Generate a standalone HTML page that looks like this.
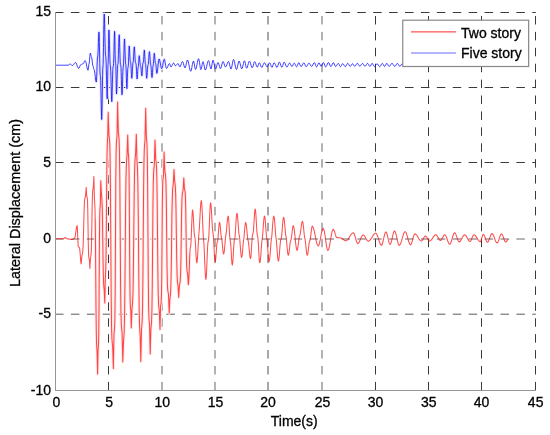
<!DOCTYPE html>
<html><head><meta charset="utf-8"><style>
html,body{margin:0;padding:0;background:#fff;}
svg{display:block;}
text{font-family:"Liberation Sans",Arial,sans-serif;font-size:14px;fill:#000;stroke:#000;stroke-width:0.3px;}
.tl{font-size:14px;}
.yl{font-size:14.4px;}
.gv{stroke:#3a3a3a;stroke-width:1;stroke-dasharray:8.5 7.41;}
.gh{stroke:#3a3a3a;stroke-width:1;stroke-dasharray:8.5 7.41;}
.tk{stroke:#444;stroke-width:1;}
.ax{stroke:#969696;stroke-width:1;}
</style></head><body>
<svg width="550" height="435" viewBox="0 0 550 435">
<rect x="0" y="0" width="550" height="435" fill="#fff"/>
<line x1="108.50" y1="390.4" x2="108.50" y2="12" class="gv" style="stroke:#3a3a3a"/>
<line x1="162.00" y1="390.4" x2="162.00" y2="12" class="gv" style="stroke:#666"/>
<line x1="215.00" y1="390.4" x2="215.00" y2="12" class="gv" style="stroke:#666"/>
<line x1="268.00" y1="390.4" x2="268.00" y2="12" class="gv" style="stroke:#505050"/>
<line x1="322.00" y1="390.4" x2="322.00" y2="12" class="gv" style="stroke:#666"/>
<line x1="375.50" y1="390.4" x2="375.50" y2="12" class="gv" style="stroke:#3a3a3a"/>
<line x1="428.50" y1="390.4" x2="428.50" y2="12" class="gv" style="stroke:#3a3a3a"/>
<line x1="481.50" y1="390.4" x2="481.50" y2="12" class="gv" style="stroke:#3a3a3a"/>
<line x1="535.50" y1="390.4" x2="535.50" y2="12" class="gv" style="stroke:#3a3a3a"/>
<line x1="55" y1="87.50" x2="535.8" y2="87.50" class="gh" stroke="#3a3a3a" style="stroke:#3a3a3a"/>
<line x1="55" y1="162.50" x2="535.8" y2="162.50" class="gh" stroke="#3a3a3a" style="stroke:#3a3a3a"/>
<line x1="55" y1="239.00" x2="535.8" y2="239.00" class="gh" stroke="#6a6a6a" style="stroke:#6a6a6a"/>
<line x1="55" y1="314.20" x2="535.8" y2="314.20" class="gh" stroke="#5a5a5a" style="stroke:#5a5a5a"/>
<line x1="55" y1="12.50" x2="535.8" y2="12.50" class="gh" stroke="#3a3a3a" style="stroke:#3a3a3a"/>
<polyline points="95.22,219.32 95.49,241.93 95.75,275.20 96.01,308.47 96.28,331.08 96.54,342.71 96.81,347.91 97.07,351.66 97.34,362.93 97.60,374.00 97.83,362.11 98.06,350.33 98.29,347.48 98.51,344.28 98.74,335.38 98.97,313.93 99.20,277.35 99.43,240.77 99.66,219.32 99.89,210.42 100.11,207.22 100.34,204.37 100.57,192.59 100.80,180.70 101.09,187.01 101.37,193.51 101.66,195.96 101.94,199.53 102.23,207.19 102.51,221.45 102.80,241.85 103.09,262.25 103.37,276.51 103.66,284.17 103.94,287.74 104.23,290.19 104.51,296.69 104.80,303.00 105.04,290.93 105.29,278.65 105.53,274.63 105.77,269.39 106.01,258.20 106.26,237.41 106.50,207.70 106.74,177.99 106.99,157.20 107.23,146.01 107.47,140.77 107.71,136.75 107.96,124.47 108.20,112.40 108.57,123.63 108.94,134.84 109.31,137.93 109.69,142.28 110.06,154.84 110.43,186.06 110.80,240.50 111.17,294.94 111.54,326.16 111.91,338.72 112.29,343.07 112.66,346.16 113.03,357.37 113.40,368.60 113.70,351.22 114.00,334.17 114.30,330.69 114.60,327.69 114.90,317.88 115.20,289.73 115.50,235.30 115.80,180.87 116.10,152.72 116.40,142.91 116.70,139.91 117.00,136.43 117.30,119.38 117.60,102.00 117.97,116.90 118.34,131.68 118.71,135.33 119.09,139.63 119.46,151.73 119.83,181.25 120.20,232.00 120.57,282.75 120.94,312.27 121.31,324.37 121.69,328.67 122.06,332.32 122.43,347.10 122.80,362.00 123.15,351.88 123.50,341.39 123.85,337.23 124.20,330.74 124.55,316.35 124.90,288.75 125.25,248.50 125.60,208.25 125.95,180.65 126.30,166.26 126.65,159.77 127.00,155.61 127.35,145.12 127.70,135.00 127.96,143.59 128.21,152.24 128.47,154.86 128.73,158.73 128.99,169.02 129.24,192.63 129.50,231.50 129.76,270.37 130.01,293.98 130.27,304.27 130.53,308.14 130.79,310.76 131.04,319.41 131.30,328.00 131.66,318.37 132.01,308.50 132.37,304.95 132.73,299.71 133.09,287.93 133.44,264.98 133.80,231.15 134.16,197.32 134.51,174.37 134.87,162.59 135.23,157.35 135.59,153.80 135.94,143.93 136.30,134.30 136.62,146.94 136.94,159.98 137.26,164.85 137.59,171.73 137.91,186.00 138.23,211.78 138.55,247.95 138.87,284.12 139.19,309.90 139.51,324.17 139.84,331.05 140.16,335.92 140.48,348.96 140.80,361.60 141.15,345.65 141.50,329.73 141.85,325.53 142.20,320.50 142.55,307.75 142.90,279.74 143.25,234.95 143.60,190.16 143.95,162.15 144.30,149.40 144.65,144.37 145.00,140.17 145.35,124.25 145.70,108.30 146.02,122.58 146.34,136.81 146.66,140.56 146.99,145.20 147.31,157.42 147.63,185.33 147.95,231.15 148.27,276.97 148.59,304.88 148.91,317.10 149.24,321.74 149.56,325.49 149.88,339.72 150.20,354.00 150.54,341.45 150.89,328.93 151.23,325.60 151.57,321.50 151.91,310.78 152.26,286.54 152.60,247.00 152.94,207.46 153.29,183.22 153.63,172.50 153.97,168.40 154.31,165.07 154.66,152.55 155.00,140.00 155.36,149.43 155.71,158.93 156.07,161.76 156.43,165.73 156.79,175.92 157.14,198.50 157.50,234.80 157.86,271.10 158.21,293.68 158.57,303.87 158.93,307.84 159.29,310.67 159.64,320.17 160.00,329.60 160.29,317.90 160.59,306.43 160.88,304.11 161.17,302.15 161.46,295.71 161.76,277.08 162.05,240.85 162.34,204.62 162.64,185.99 162.93,179.55 163.22,177.59 163.51,175.27 163.81,163.80 164.10,152.10 164.46,161.66 164.83,171.07 165.19,173.17 165.56,175.34 165.92,182.02 166.29,199.89 166.65,232.70 167.01,265.51 167.38,283.38 167.74,290.06 168.11,292.23 168.47,294.33 168.84,303.74 169.20,313.30 169.54,306.26 169.89,299.10 170.23,296.73 170.57,293.26 170.91,284.96 171.26,267.79 171.60,241.45 171.94,215.11 172.29,197.94 172.63,189.64 172.97,186.17 173.31,183.80 173.66,176.64 174.00,169.60 174.34,175.40 174.67,181.34 175.01,183.45 175.34,186.67 175.68,194.29 176.01,209.87 176.35,233.55 176.69,257.23 177.02,272.81 177.36,280.43 177.69,283.65 178.03,285.76 178.36,291.70 178.70,297.50 179.06,291.26 179.43,285.09 179.79,283.59 180.16,281.78 180.52,276.39 180.89,262.52 181.25,237.70 181.61,212.88 181.98,199.01 182.34,193.62 182.71,191.81 183.07,190.31 183.44,184.14 183.80,177.90 184.12,183.42 184.44,188.88 184.76,190.15 185.09,191.64 185.41,196.24 185.73,208.56 186.05,231.25 186.37,253.94 186.69,266.26 187.01,270.86 187.34,272.35 187.66,273.62 187.98,279.08 188.30,284.60 188.61,282.60 188.91,277.05 189.22,269.16 189.53,260.67 189.84,253.37" fill="none" stroke="#ffe8e8" stroke-width="3" stroke-linejoin="round"/>
<polyline points="55.00,238.80 56.60,238.80 58.20,238.80 59.80,238.80 61.40,238.80 63.00,238.80 63.44,238.69 63.88,238.39 64.32,238.01 64.76,237.71 65.20,237.60 65.60,237.71 66.00,238.01 66.40,238.39 66.80,238.69 67.20,238.80 68.16,238.88 69.12,239.08 70.08,239.32 71.04,239.52 72.00,239.60 72.50,239.50 73.00,239.25 73.50,238.95 74.00,238.70 74.50,238.60 75.02,237.36 75.54,234.11 76.06,230.09 76.58,226.84 77.10,225.60 77.34,227.60 77.58,232.82 77.82,239.28 78.06,244.50 78.30,246.50 78.52,246.60 78.74,246.85 78.96,247.15 79.18,247.40 79.40,247.50 79.76,249.08 80.12,253.20 80.48,258.30 80.84,262.42 81.20,264.00 81.56,259.68 81.91,255.36 82.27,254.16 82.63,252.60 82.99,248.62 83.34,239.82 83.70,225.70 84.06,211.58 84.41,202.78 84.77,198.80 85.13,197.24 85.49,196.04 85.84,191.72 86.20,187.40 86.46,191.74 86.73,196.02 86.99,196.97 87.26,198.01 87.52,201.31 87.79,210.52 88.05,227.95 88.31,245.38 88.58,254.59 88.84,257.89 89.11,258.93 89.37,259.88 89.64,264.16 89.90,268.50 90.19,263.26 90.47,258.03 90.76,256.63 91.04,254.86 91.33,250.22 91.61,239.68 91.90,222.45 92.19,205.22 92.47,194.68 92.76,190.04 93.04,188.27 93.33,186.87 93.61,181.64 93.90,176.40 94.16,187.47 94.43,198.74 94.69,202.49 94.96,207.69 95.22,219.32 95.49,241.93 95.75,275.20 96.01,308.47 96.28,331.08 96.54,342.71 96.81,347.91 97.07,351.66 97.34,362.93 97.60,374.00 97.83,362.11 98.06,350.33 98.29,347.48 98.51,344.28 98.74,335.38 98.97,313.93 99.20,277.35 99.43,240.77 99.66,219.32 99.89,210.42 100.11,207.22 100.34,204.37 100.57,192.59 100.80,180.70 101.09,187.01 101.37,193.51 101.66,195.96 101.94,199.53 102.23,207.19 102.51,221.45 102.80,241.85 103.09,262.25 103.37,276.51 103.66,284.17 103.94,287.74 104.23,290.19 104.51,296.69 104.80,303.00 105.04,290.93 105.29,278.65 105.53,274.63 105.77,269.39 106.01,258.20 106.26,237.41 106.50,207.70 106.74,177.99 106.99,157.20 107.23,146.01 107.47,140.77 107.71,136.75 107.96,124.47 108.20,112.40 108.57,123.63 108.94,134.84 109.31,137.93 109.69,142.28 110.06,154.84 110.43,186.06 110.80,240.50 111.17,294.94 111.54,326.16 111.91,338.72 112.29,343.07 112.66,346.16 113.03,357.37 113.40,368.60 113.70,351.22 114.00,334.17 114.30,330.69 114.60,327.69 114.90,317.88 115.20,289.73 115.50,235.30 115.80,180.87 116.10,152.72 116.40,142.91 116.70,139.91 117.00,136.43 117.30,119.38 117.60,102.00 117.97,116.90 118.34,131.68 118.71,135.33 119.09,139.63 119.46,151.73 119.83,181.25 120.20,232.00 120.57,282.75 120.94,312.27 121.31,324.37 121.69,328.67 122.06,332.32 122.43,347.10 122.80,362.00 123.15,351.88 123.50,341.39 123.85,337.23 124.20,330.74 124.55,316.35 124.90,288.75 125.25,248.50 125.60,208.25 125.95,180.65 126.30,166.26 126.65,159.77 127.00,155.61 127.35,145.12 127.70,135.00 127.96,143.59 128.21,152.24 128.47,154.86 128.73,158.73 128.99,169.02 129.24,192.63 129.50,231.50 129.76,270.37 130.01,293.98 130.27,304.27 130.53,308.14 130.79,310.76 131.04,319.41 131.30,328.00 131.66,318.37 132.01,308.50 132.37,304.95 132.73,299.71 133.09,287.93 133.44,264.98 133.80,231.15 134.16,197.32 134.51,174.37 134.87,162.59 135.23,157.35 135.59,153.80 135.94,143.93 136.30,134.30 136.62,146.94 136.94,159.98 137.26,164.85 137.59,171.73 137.91,186.00 138.23,211.78 138.55,247.95 138.87,284.12 139.19,309.90 139.51,324.17 139.84,331.05 140.16,335.92 140.48,348.96 140.80,361.60 141.15,345.65 141.50,329.73 141.85,325.53 142.20,320.50 142.55,307.75 142.90,279.74 143.25,234.95 143.60,190.16 143.95,162.15 144.30,149.40 144.65,144.37 145.00,140.17 145.35,124.25 145.70,108.30 146.02,122.58 146.34,136.81 146.66,140.56 146.99,145.20 147.31,157.42 147.63,185.33 147.95,231.15 148.27,276.97 148.59,304.88 148.91,317.10 149.24,321.74 149.56,325.49 149.88,339.72 150.20,354.00 150.54,341.45 150.89,328.93 151.23,325.60 151.57,321.50 151.91,310.78 152.26,286.54 152.60,247.00 152.94,207.46 153.29,183.22 153.63,172.50 153.97,168.40 154.31,165.07 154.66,152.55 155.00,140.00 155.36,149.43 155.71,158.93 156.07,161.76 156.43,165.73 156.79,175.92 157.14,198.50 157.50,234.80 157.86,271.10 158.21,293.68 158.57,303.87 158.93,307.84 159.29,310.67 159.64,320.17 160.00,329.60 160.29,317.90 160.59,306.43 160.88,304.11 161.17,302.15 161.46,295.71 161.76,277.08 162.05,240.85 162.34,204.62 162.64,185.99 162.93,179.55 163.22,177.59 163.51,175.27 163.81,163.80 164.10,152.10 164.46,161.66 164.83,171.07 165.19,173.17 165.56,175.34 165.92,182.02 166.29,199.89 166.65,232.70 167.01,265.51 167.38,283.38 167.74,290.06 168.11,292.23 168.47,294.33 168.84,303.74 169.20,313.30 169.54,306.26 169.89,299.10 170.23,296.73 170.57,293.26 170.91,284.96 171.26,267.79 171.60,241.45 171.94,215.11 172.29,197.94 172.63,189.64 172.97,186.17 173.31,183.80 173.66,176.64 174.00,169.60 174.34,175.40 174.67,181.34 175.01,183.45 175.34,186.67 175.68,194.29 176.01,209.87 176.35,233.55 176.69,257.23 177.02,272.81 177.36,280.43 177.69,283.65 178.03,285.76 178.36,291.70 178.70,297.50 179.06,291.26 179.43,285.09 179.79,283.59 180.16,281.78 180.52,276.39 180.89,262.52 181.25,237.70 181.61,212.88 181.98,199.01 182.34,193.62 182.71,191.81 183.07,190.31 183.44,184.14 183.80,177.90 184.12,183.42 184.44,188.88 184.76,190.15 185.09,191.64 185.41,196.24 185.73,208.56 186.05,231.25 186.37,253.94 186.69,266.26 187.01,270.86 187.34,272.35 187.66,273.62 187.98,279.08 188.30,284.60 188.61,282.60 188.91,277.05 189.22,269.16 189.53,260.67 189.84,253.37 190.14,248.69 190.45,247.25 190.76,245.81 191.06,241.13 191.37,233.83 191.68,225.34 191.99,217.45 192.29,211.90 192.60,209.90 192.90,211.26 193.20,215.06 193.50,220.51 193.80,226.47 194.10,231.73 194.40,235.23 194.70,236.40 195.00,237.57 195.30,241.07 195.60,246.33 195.90,252.29 196.20,257.74 196.50,261.54 196.80,262.90 197.12,261.81 197.44,258.67 197.76,253.82 198.09,247.82 198.41,241.42 198.73,235.55 199.05,231.75 199.37,227.95 199.69,222.08 200.01,215.68 200.34,209.68 200.66,204.83 200.98,201.69 201.30,200.60 201.63,202.14 201.96,206.54 202.29,213.21 202.61,221.21 202.94,229.36 203.27,236.26 203.60,240.00 203.93,243.74 204.26,250.64 204.59,258.79 204.91,266.79 205.24,273.46 205.57,277.86 205.90,279.40 206.24,277.38 206.57,271.77 206.91,263.76 207.24,255.08 207.58,247.54 207.91,242.62 208.25,241.05 208.59,239.48 208.92,234.56 209.26,227.02 209.59,218.34 209.93,210.33 210.26,204.72 210.60,202.70 210.93,204.01 211.26,207.70 211.59,213.18 211.91,219.51 212.24,225.58 212.57,230.25 212.90,232.30 213.23,234.35 213.56,239.02 213.89,245.09 214.21,251.42 214.54,256.90 214.87,260.59 215.20,261.90 215.51,260.83 215.81,257.87 216.12,253.67 216.43,249.16 216.74,245.30 217.04,242.84 217.35,242.10 217.66,241.36 217.96,238.90 218.27,235.04 218.58,230.53 218.89,226.33 219.19,223.37 219.50,222.30 219.79,222.98 220.09,224.90 220.38,227.77 220.67,231.11 220.96,234.37 221.26,236.95 221.55,238.15 221.84,239.35 222.14,241.93 222.43,245.19 222.72,248.53 223.01,251.40 223.31,253.32 223.60,254.00 223.93,253.31 224.26,251.33 224.59,248.28 224.91,244.56 225.24,240.66 225.57,237.17 225.90,235.05 226.23,232.93 226.56,229.44 226.89,225.54 227.21,221.82 227.54,218.77 227.87,216.79 228.20,216.10 228.49,217.25 228.79,220.50 229.08,225.25 229.37,230.60 229.66,235.56 229.96,239.15 230.25,240.55 230.54,241.95 230.84,245.54 231.13,250.50 231.42,255.85 231.71,260.60 232.01,263.85 232.30,265.00 232.63,263.71 232.96,260.08 233.29,254.86 233.61,249.09 233.94,243.92 234.27,240.39 234.60,239.15 234.93,237.91 235.26,234.38 235.59,229.21 235.91,223.44 236.24,218.22 236.57,214.59 236.90,213.30 237.24,214.19 237.57,216.72 237.91,220.54 238.24,225.07 238.58,229.63 238.91,233.41 239.25,235.35 239.59,237.29 239.92,241.07 240.26,245.63 240.59,250.16 240.93,253.98 241.26,256.51 241.60,257.40 241.89,256.76 242.19,254.92 242.48,252.10 242.77,248.66 243.06,245.06 243.36,241.87 243.65,239.95 243.94,238.03 244.24,234.84 244.53,231.24 244.82,227.80 245.11,224.98 245.41,223.14 245.70,222.50 246.04,223.25 246.39,225.38 246.73,228.57 247.07,232.33 247.41,236.06 247.76,239.07 248.10,240.55 248.44,242.03 248.79,245.04 249.13,248.77 249.47,252.53 249.81,255.72 250.16,257.85 250.50,258.60 250.84,257.27 251.17,253.57 251.51,248.33 251.84,242.69 252.18,237.85 252.51,234.75 252.85,233.80 253.19,232.85 253.52,229.75 253.86,224.91 254.19,219.27 254.53,214.03 254.86,210.33 255.20,209.00 255.53,210.34 255.86,214.08 256.19,219.48 256.51,225.47 256.84,230.86 257.17,234.58 257.50,235.90 257.83,237.22 258.16,240.94 258.49,246.33 258.81,252.32 259.14,257.72 259.47,261.46 259.80,262.80 260.14,261.93 260.47,259.43 260.81,255.61 261.14,250.98 261.48,246.15 261.81,241.92 262.15,239.45 262.49,236.98 262.82,232.75 263.16,227.92 263.49,223.29 263.83,219.47 264.16,216.97 264.50,216.10 264.83,217.00 265.16,219.58 265.49,223.48 265.81,228.13 266.14,232.82 266.47,236.74 266.80,238.80 267.13,240.86 267.46,244.78 267.79,249.47 268.11,254.12 268.44,258.02 268.77,260.60 269.10,261.50 269.44,260.66 269.77,258.25 270.11,254.57 270.44,250.08 270.78,245.39 271.11,241.25 271.45,238.80 271.79,236.35 272.12,232.21 272.46,227.52 272.79,223.03 273.13,219.35 273.46,216.94 273.80,216.10 274.13,216.91 274.46,219.25 274.79,222.84 275.11,227.25 275.44,231.88 275.77,236.05 276.10,238.60 276.43,241.15 276.76,245.32 277.09,249.95 277.41,254.36 277.74,257.95 278.07,260.29 278.40,261.10 278.77,260.00 279.14,256.91 279.51,252.46 279.89,247.56 280.26,243.20 280.63,240.22 281.00,239.20 281.37,238.18 281.74,235.20 282.11,230.84 282.49,225.94 282.86,221.49 283.23,218.40 283.60,217.30 283.94,218.03 284.27,220.12 284.61,223.30 284.94,227.13 285.28,231.06 285.61,234.43 285.95,236.30 286.29,238.17 286.62,241.54 286.96,245.47 287.29,249.30 287.63,252.48 287.96,254.57 288.30,255.30 288.66,254.62 289.01,252.70 289.37,249.87 289.73,246.65 290.09,243.63 290.44,241.37 290.80,240.45 291.16,239.53 291.51,237.27 291.87,234.25 292.23,231.03 292.59,228.20 292.94,226.28 293.30,225.60 294.04,227.97 294.78,234.17 295.52,241.83 296.26,248.03 297.00,250.40 297.39,249.77 297.77,247.97 298.16,245.31 298.54,242.22 298.93,239.24 299.31,236.93 299.70,235.90 300.09,234.87 300.47,232.56 300.86,229.58 301.24,226.49 301.63,223.83 302.01,222.03 302.40,221.40 302.75,222.06 303.10,223.93 303.45,226.78 303.80,230.21 304.15,233.71 304.50,236.71 304.85,238.35 305.20,239.99 305.55,242.99 305.90,246.49 306.25,249.92 306.60,252.77 306.95,254.64 307.30,255.30 307.66,254.58 308.01,252.56 308.37,249.64 308.73,246.38 309.09,243.44 309.44,241.39 309.80,240.65 310.16,239.91 310.51,237.86 310.87,234.92 311.23,231.66 311.59,228.74 311.94,226.72 312.30,226.00 313.48,227.92 314.66,232.94 315.84,239.16 317.02,244.18 318.20,246.10 319.20,244.39 320.20,239.92 321.20,234.38 322.20,229.91 323.20,228.20 324.14,230.34 325.08,235.94 326.02,242.86 326.96,248.46 327.90,250.60 328.96,248.56 330.02,243.21 331.08,236.59 332.14,231.24 333.20,229.20 333.94,230.00 334.68,232.10 335.42,234.70 336.16,236.80 336.90,237.60 337.64,237.63 338.38,237.70 339.12,237.80 339.86,237.87 340.60,237.90 341.66,238.19 342.72,238.94 343.78,239.86 344.84,240.61 345.90,240.90 347.38,240.12 348.86,238.07 350.34,235.53 351.82,233.48 353.30,232.70 354.20,233.74 355.10,236.47 356.00,239.83 356.90,242.56 357.80,243.60 358.86,242.77 359.92,240.59 360.98,237.91 362.04,235.73 363.10,234.90 364.14,235.50 365.18,237.08 366.22,239.02 367.26,240.60 368.30,241.20 369.80,240.43 371.30,238.40 372.80,235.90 374.30,233.87 375.80,233.10 376.92,234.27 378.04,237.35 379.16,241.15 380.28,244.23 381.40,245.40 382.30,244.11 383.20,240.74 384.10,236.56 385.00,233.19 385.90,231.90 386.74,233.10 387.58,236.25 388.42,240.15 389.26,243.30 390.10,244.50 390.98,243.20 391.86,239.80 392.74,235.60 393.62,232.20 394.50,230.90 395.46,232.29 396.42,235.94 397.38,240.46 398.34,244.11 399.30,245.50 400.46,244.16 401.62,240.66 402.78,236.34 403.94,232.84 405.10,231.50 406.18,232.78 407.26,236.13 408.34,240.27 409.42,243.62 410.50,244.90 411.38,243.84 412.26,241.07 413.14,237.63 414.02,234.86 414.90,233.80 416.18,234.50 417.46,236.32 418.74,238.58 420.02,240.40 421.30,241.10 422.14,240.61 422.98,239.34 423.82,237.76 424.66,236.49 425.50,236.00 426.30,236.49 427.10,237.76 427.90,239.34 428.70,240.61 429.50,241.10 430.78,240.49 432.06,238.89 433.34,236.91 434.62,235.31 435.90,234.70 436.80,235.25 437.70,236.70 438.60,238.50 439.50,239.95 440.40,240.50 441.28,239.95 442.16,238.50 443.04,236.70 443.92,235.25 444.80,234.70 445.78,235.62 446.76,238.02 447.74,240.98 448.72,243.38 449.70,244.30 450.68,243.19 451.66,240.29 452.64,236.71 453.62,233.81 454.60,232.70 455.52,233.59 456.44,235.91 457.36,238.79 458.28,241.11 459.20,242.00 460.28,241.30 461.36,239.48 462.44,237.22 463.52,235.40 464.60,234.70 465.70,235.35 466.80,237.05 467.90,239.15 469.00,240.85 470.10,241.50 470.86,240.85 471.62,239.15 472.38,237.05 473.14,235.35 473.90,234.70 475.18,235.37 476.46,237.12 477.74,239.28 479.02,241.03 480.30,241.70 480.90,240.99 481.50,239.14 482.10,236.86 482.70,235.01 483.30,234.30 484.14,235.07 484.98,237.10 485.82,239.60 486.66,241.63 487.50,242.40 488.40,241.55 489.30,239.33 490.20,236.57 491.10,234.35 492.00,233.50 493.02,234.41 494.04,236.78 495.06,239.72 496.08,242.09 497.10,243.00 497.98,242.12 498.86,239.82 499.74,236.98 500.62,234.68 501.50,233.80 502.34,234.59 503.18,236.67 504.02,239.23 504.86,241.31 505.70,242.10 506.22,241.84 506.74,241.17 507.26,240.33 507.78,239.66 508.30,239.40" fill="none" stroke="#ff0000" stroke-width="1.05" stroke-opacity="0.7" stroke-linejoin="round"/>
<polyline points="95.38,77.68 95.84,80.81 96.30,82.00 96.49,80.69 96.69,77.03 96.88,71.82 97.07,66.17 97.26,61.26 97.46,58.06 97.65,57.05 97.84,56.04 98.04,52.84 98.23,47.93 98.42,42.28 98.61,37.07 98.81,33.41 99.00,32.10 99.19,34.94 99.39,42.63 99.58,53.00 99.77,63.27 99.96,70.99 100.16,74.98 100.35,75.80 100.54,76.62 100.74,80.61 100.93,88.33 101.12,98.60 101.31,108.97 101.51,116.66 101.70,119.50 101.88,116.74 102.06,109.06 102.24,98.10 102.41,86.19 102.59,75.80 102.77,68.99 102.95,66.80 103.13,64.61 103.31,57.80 103.49,47.41 103.66,35.50 103.84,24.54 104.02,16.86 104.20,14.10 104.41,16.62 104.63,23.55 104.84,33.11 105.06,42.95 105.27,50.84 105.49,55.34 105.70,56.45 105.91,57.56 106.13,62.06 106.34,69.95 106.56,79.79 106.77,89.35 106.99,96.28 107.20,98.80 107.32,96.92 107.44,91.71 107.56,84.35 107.69,76.49 107.81,69.82 107.93,65.64 108.05,64.40 108.17,63.16 108.29,58.98 108.41,52.31 108.54,44.45 108.66,37.09 108.78,31.88 108.90,30.00 109.11,32.00 109.31,37.55 109.52,45.32 109.73,53.55 109.94,60.42 110.14,64.62 110.35,65.80 110.56,66.98 110.76,71.18 110.97,78.05 111.18,86.28 111.39,94.05 111.59,99.60 111.80,101.60 112.00,99.05 112.20,92.25 112.40,83.39 112.60,75.13 112.80,69.44 113.00,66.90 113.20,66.50 113.40,66.10 113.60,63.56 113.80,57.87 114.00,49.61 114.20,40.75 114.40,33.95 114.60,31.40 114.74,33.55 114.87,39.33 115.01,47.00 115.14,54.38 115.28,59.69 115.41,62.24 115.55,62.70 115.69,63.16 115.82,65.71 115.96,71.02 116.09,78.40 116.23,86.07 116.36,91.85 116.50,94.00 116.69,92.32 116.89,87.68 117.08,81.19 117.27,74.37 117.46,68.72 117.66,65.33 117.85,64.40 118.04,63.47 118.24,60.08 118.43,54.43 118.62,47.61 118.81,41.12 119.01,36.48 119.20,34.80 119.40,36.92 119.60,42.58 119.80,50.03 120.00,57.09 120.20,62.06 120.40,64.36 120.60,64.75 120.80,65.14 121.00,67.44 121.20,72.41 121.40,79.47 121.60,86.92 121.80,92.58 122.00,94.70 122.18,93.18 122.36,88.97 122.54,83.01 122.71,76.65 122.89,71.25 123.07,67.85 123.25,66.85 123.43,65.85 123.61,62.45 123.79,57.05 123.96,50.69 124.14,44.73 124.32,40.52 124.50,39.00 124.67,40.47 124.84,44.49 125.01,50.06 125.19,55.83 125.36,60.48 125.53,63.17 125.70,63.85 125.87,64.53 126.04,67.22 126.21,71.87 126.39,77.64 126.56,83.21 126.73,87.23 126.90,88.70 127.06,87.21 127.23,83.20 127.39,77.93 127.56,72.89 127.72,69.32 127.89,67.64 128.05,67.35 128.21,67.06 128.38,65.38 128.54,61.81 128.71,56.77 128.87,51.50 129.04,47.49 129.20,46.00 129.39,47.05 129.57,49.89 129.76,53.72 129.94,57.51 130.13,60.37 130.31,61.85 130.50,62.15 130.69,62.45 130.87,63.93 131.06,66.79 131.24,70.58 131.43,74.41 131.61,77.25 131.80,78.30 131.98,77.48 132.16,75.21 132.34,71.96 132.51,68.42 132.69,65.32 132.87,63.27 133.05,62.60 133.23,61.93 133.41,59.88 133.59,56.78 133.76,53.24 133.94,49.99 134.12,47.72 134.30,46.90 134.50,48.07 134.70,51.20 134.90,55.26 135.10,59.04 135.30,61.63 135.50,62.77 135.70,62.95 135.90,63.13 136.10,64.27 136.30,66.86 136.50,70.64 136.70,74.70 136.90,77.83 137.10,79.00 137.25,78.36 137.40,76.60 137.55,74.11 137.70,71.44 137.85,69.19 138.00,67.77 138.15,67.35 138.30,66.93 138.45,65.51 138.60,63.26 138.75,60.59 138.90,58.10 139.05,56.34 139.20,55.70 139.39,56.26 139.59,57.81 139.78,59.99 139.97,62.29 140.16,64.23 140.36,65.41 140.55,65.75 140.74,66.09 140.94,67.27 141.13,69.21 141.32,71.51 141.51,73.69 141.71,75.24 141.90,75.80 142.07,74.93 142.24,72.57 142.41,69.44 142.59,66.42 142.76,64.22 142.93,63.15 143.10,62.95 143.27,62.75 143.44,61.68 143.61,59.48 143.79,56.46 143.96,53.33 144.13,50.97 144.30,50.10 144.47,50.91 144.64,53.14 144.81,56.25 144.99,59.51 145.16,62.18 145.33,63.77 145.50,64.20 145.67,64.63 145.84,66.22 146.01,68.89 146.19,72.15 146.36,75.26 146.53,77.49 146.70,78.30 146.89,77.55 147.09,75.47 147.28,72.56 147.47,69.49 147.66,66.95 147.86,65.42 148.05,65.00 148.24,64.58 148.44,63.05 148.63,60.51 148.82,57.44 149.01,54.53 149.21,52.45 149.40,51.70 149.59,52.36 149.77,54.21 149.96,56.86 150.14,59.76 150.33,62.32 150.51,64.03 150.70,64.60 150.89,65.17 151.07,66.88 151.26,69.44 151.44,72.34 151.63,74.99 151.81,76.84 152.00,77.50 152.16,76.87 152.33,75.13 152.49,72.63 152.66,69.91 152.82,67.51 152.99,65.92 153.15,65.40 153.31,64.88 153.48,63.29 153.64,60.89 153.81,58.17 153.97,55.67 154.14,53.93 154.30,53.30 154.48,53.94 154.66,55.67 154.84,58.03 155.01,60.38 155.19,62.19 155.37,63.14 155.55,63.35 155.73,63.56 155.91,64.51 156.09,66.32 156.26,68.67 156.44,71.03 156.62,72.76 156.80,73.40 157.26,72.02 157.72,68.42 158.18,63.98 158.64,60.38 159.10,59.00 159.62,59.92 160.14,62.32 160.66,65.28 161.18,67.68 161.70,68.60 162.22,67.71 162.74,65.39 163.26,62.51 163.78,60.19 164.30,59.30 164.74,60.18" fill="none" stroke="#e4e4ff" stroke-width="3" stroke-linejoin="round"/>
<polyline points="55.00,65.20 57.72,65.20 60.44,65.20 63.16,65.20 65.88,65.20 68.60,65.20 68.86,65.08 69.12,64.75 69.38,64.35 69.64,64.02 69.90,63.90 70.42,64.05 70.94,64.45 71.46,64.95 71.98,65.35 72.50,65.50 73.10,65.21 73.70,64.46 74.30,63.54 74.90,62.79 75.50,62.50 76.12,63.06 76.74,64.54 77.36,66.36 77.98,67.84 78.60,68.40 79.08,68.03 79.56,67.05 80.04,65.85 80.52,64.87 81.00,64.50 81.40,64.43 81.80,64.26 82.20,64.04 82.60,63.87 83.00,63.80 83.44,63.48 83.88,62.66 84.32,61.64 84.76,60.82 85.20,60.50 85.76,61.44 86.32,63.89 86.88,66.91 87.44,69.36 88.00,70.30 88.20,69.70 88.40,68.12 88.60,66.18 88.80,64.60 89.00,64.00 89.26,62.95 89.52,60.20 89.78,56.80 90.04,54.05 90.30,53.00 90.54,53.38 90.78,54.38 91.02,55.62 91.26,56.62 91.50,57.00 91.80,57.86 92.10,60.11 92.40,62.89 92.70,65.14 93.00,66.00 93.20,66.33 93.40,67.21 93.60,68.29 93.80,69.17 94.00,69.50 94.46,70.69 94.92,73.82 95.38,77.68 95.84,80.81 96.30,82.00 96.49,80.69 96.69,77.03 96.88,71.82 97.07,66.17 97.26,61.26 97.46,58.06 97.65,57.05 97.84,56.04 98.04,52.84 98.23,47.93 98.42,42.28 98.61,37.07 98.81,33.41 99.00,32.10 99.19,34.94 99.39,42.63 99.58,53.00 99.77,63.27 99.96,70.99 100.16,74.98 100.35,75.80 100.54,76.62 100.74,80.61 100.93,88.33 101.12,98.60 101.31,108.97 101.51,116.66 101.70,119.50 101.88,116.74 102.06,109.06 102.24,98.10 102.41,86.19 102.59,75.80 102.77,68.99 102.95,66.80 103.13,64.61 103.31,57.80 103.49,47.41 103.66,35.50 103.84,24.54 104.02,16.86 104.20,14.10 104.41,16.62 104.63,23.55 104.84,33.11 105.06,42.95 105.27,50.84 105.49,55.34 105.70,56.45 105.91,57.56 106.13,62.06 106.34,69.95 106.56,79.79 106.77,89.35 106.99,96.28 107.20,98.80 107.32,96.92 107.44,91.71 107.56,84.35 107.69,76.49 107.81,69.82 107.93,65.64 108.05,64.40 108.17,63.16 108.29,58.98 108.41,52.31 108.54,44.45 108.66,37.09 108.78,31.88 108.90,30.00 109.11,32.00 109.31,37.55 109.52,45.32 109.73,53.55 109.94,60.42 110.14,64.62 110.35,65.80 110.56,66.98 110.76,71.18 110.97,78.05 111.18,86.28 111.39,94.05 111.59,99.60 111.80,101.60 112.00,99.05 112.20,92.25 112.40,83.39 112.60,75.13 112.80,69.44 113.00,66.90 113.20,66.50 113.40,66.10 113.60,63.56 113.80,57.87 114.00,49.61 114.20,40.75 114.40,33.95 114.60,31.40 114.74,33.55 114.87,39.33 115.01,47.00 115.14,54.38 115.28,59.69 115.41,62.24 115.55,62.70 115.69,63.16 115.82,65.71 115.96,71.02 116.09,78.40 116.23,86.07 116.36,91.85 116.50,94.00 116.69,92.32 116.89,87.68 117.08,81.19 117.27,74.37 117.46,68.72 117.66,65.33 117.85,64.40 118.04,63.47 118.24,60.08 118.43,54.43 118.62,47.61 118.81,41.12 119.01,36.48 119.20,34.80 119.40,36.92 119.60,42.58 119.80,50.03 120.00,57.09 120.20,62.06 120.40,64.36 120.60,64.75 120.80,65.14 121.00,67.44 121.20,72.41 121.40,79.47 121.60,86.92 121.80,92.58 122.00,94.70 122.18,93.18 122.36,88.97 122.54,83.01 122.71,76.65 122.89,71.25 123.07,67.85 123.25,66.85 123.43,65.85 123.61,62.45 123.79,57.05 123.96,50.69 124.14,44.73 124.32,40.52 124.50,39.00 124.67,40.47 124.84,44.49 125.01,50.06 125.19,55.83 125.36,60.48 125.53,63.17 125.70,63.85 125.87,64.53 126.04,67.22 126.21,71.87 126.39,77.64 126.56,83.21 126.73,87.23 126.90,88.70 127.06,87.21 127.23,83.20 127.39,77.93 127.56,72.89 127.72,69.32 127.89,67.64 128.05,67.35 128.21,67.06 128.38,65.38 128.54,61.81 128.71,56.77 128.87,51.50 129.04,47.49 129.20,46.00 129.39,47.05 129.57,49.89 129.76,53.72 129.94,57.51 130.13,60.37 130.31,61.85 130.50,62.15 130.69,62.45 130.87,63.93 131.06,66.79 131.24,70.58 131.43,74.41 131.61,77.25 131.80,78.30 131.98,77.48 132.16,75.21 132.34,71.96 132.51,68.42 132.69,65.32 132.87,63.27 133.05,62.60 133.23,61.93 133.41,59.88 133.59,56.78 133.76,53.24 133.94,49.99 134.12,47.72 134.30,46.90 134.50,48.07 134.70,51.20 134.90,55.26 135.10,59.04 135.30,61.63 135.50,62.77 135.70,62.95 135.90,63.13 136.10,64.27 136.30,66.86 136.50,70.64 136.70,74.70 136.90,77.83 137.10,79.00 137.25,78.36 137.40,76.60 137.55,74.11 137.70,71.44 137.85,69.19 138.00,67.77 138.15,67.35 138.30,66.93 138.45,65.51 138.60,63.26 138.75,60.59 138.90,58.10 139.05,56.34 139.20,55.70 139.39,56.26 139.59,57.81 139.78,59.99 139.97,62.29 140.16,64.23 140.36,65.41 140.55,65.75 140.74,66.09 140.94,67.27 141.13,69.21 141.32,71.51 141.51,73.69 141.71,75.24 141.90,75.80 142.07,74.93 142.24,72.57 142.41,69.44 142.59,66.42 142.76,64.22 142.93,63.15 143.10,62.95 143.27,62.75 143.44,61.68 143.61,59.48 143.79,56.46 143.96,53.33 144.13,50.97 144.30,50.10 144.47,50.91 144.64,53.14 144.81,56.25 144.99,59.51 145.16,62.18 145.33,63.77 145.50,64.20 145.67,64.63 145.84,66.22 146.01,68.89 146.19,72.15 146.36,75.26 146.53,77.49 146.70,78.30 146.89,77.55 147.09,75.47 147.28,72.56 147.47,69.49 147.66,66.95 147.86,65.42 148.05,65.00 148.24,64.58 148.44,63.05 148.63,60.51 148.82,57.44 149.01,54.53 149.21,52.45 149.40,51.70 149.59,52.36 149.77,54.21 149.96,56.86 150.14,59.76 150.33,62.32 150.51,64.03 150.70,64.60 150.89,65.17 151.07,66.88 151.26,69.44 151.44,72.34 151.63,74.99 151.81,76.84 152.00,77.50 152.16,76.87 152.33,75.13 152.49,72.63 152.66,69.91 152.82,67.51 152.99,65.92 153.15,65.40 153.31,64.88 153.48,63.29 153.64,60.89 153.81,58.17 153.97,55.67 154.14,53.93 154.30,53.30 154.48,53.94 154.66,55.67 154.84,58.03 155.01,60.38 155.19,62.19 155.37,63.14 155.55,63.35 155.73,63.56 155.91,64.51 156.09,66.32 156.26,68.67 156.44,71.03 156.62,72.76 156.80,73.40 157.26,72.02 157.72,68.42 158.18,63.98 158.64,60.38 159.10,59.00 159.62,59.92 160.14,62.32 160.66,65.28 161.18,67.68 161.70,68.60 162.22,67.71 162.74,65.39 163.26,62.51 163.78,60.19 164.30,59.30 164.74,60.18 165.18,62.48 165.62,65.32 166.06,67.62 166.50,68.50 167.10,68.02 167.70,66.77 168.30,65.23 168.90,63.98 169.50,63.50 169.80,63.83 170.10,64.71 170.40,65.79 170.70,66.67 171.00,67.00 171.50,66.62 172.00,65.62 172.50,64.38 173.00,63.38 173.50,63.00 173.90,63.27 174.30,63.97 174.70,64.83 175.10,65.53 175.50,65.80 176.00,65.58 176.50,65.01 177.00,64.29 177.50,63.72 178.00,63.50 178.36,63.83 178.72,64.71 179.08,65.79 179.44,66.67 179.80,67.00 180.34,66.47 180.88,65.10 181.42,63.40 181.96,62.03 182.50,61.50 183.00,62.12 183.50,63.75 184.00,65.75 184.50,67.38 185.00,68.00 185.50,67.24 186.00,65.24 186.50,62.76 187.00,60.76 187.50,60.00 188.14,61.08 188.78,63.90 189.42,67.40 190.06,70.22 190.70,71.30 191.26,70.32 191.82,67.74 192.38,64.56 192.94,61.98 193.50,61.00 193.90,61.81 194.30,63.94 194.70,66.56 195.10,68.69 195.50,69.50 196.12,68.47 196.74,65.77 197.36,62.43 197.98,59.73 198.60,58.70 199.06,59.74 199.52,62.47 199.98,65.83 200.44,68.56 200.90,69.60 201.32,68.84 201.74,66.84 202.16,64.36 202.58,62.36 203.00,61.60 203.46,62.40 203.92,64.50 204.38,67.10 204.84,69.20 205.30,70.00 205.94,69.10 206.58,66.75 207.22,63.85 207.86,61.50 208.50,60.60 209.00,61.40 209.50,63.50 210.00,66.10 210.50,68.20 211.00,69.00 211.40,68.16 211.80,65.96 212.20,63.24 212.60,61.04 213.00,60.20 213.50,61.06 214.00,63.31 214.50,66.09 215.00,68.34 215.50,69.20 216.00,68.56 216.50,66.89 217.00,64.81 217.50,63.14 218.00,62.50 218.50,63.09 219.00,64.64 219.50,66.56 220.00,68.11 220.50,68.70 221.00,68.01 221.50,66.21 222.00,63.99 222.50,62.19 223.00,61.50 223.50,62.03 224.00,63.40 224.50,65.10 225.00,66.47 225.50,67.00 226.10,66.47 226.70,65.10 227.30,63.40 227.90,62.03 228.50,61.50 229.00,62.22 229.50,64.09 230.00,66.41 230.50,68.28 231.00,69.00 231.50,68.09 232.00,65.72 232.50,62.78 233.00,60.41 233.50,59.50 234.10,60.45 234.70,62.95 235.30,66.05 235.90,68.55 236.50,69.50 237.02,68.69 237.54,66.56 238.05,63.93 238.57,61.80 239.09,60.99 239.63,61.74 240.17,63.71 240.71,66.15 241.25,68.12 241.79,68.87 242.32,68.10 242.86,66.07 243.39,63.56 243.93,61.53 244.46,60.76 244.89,61.48 245.33,63.35 245.76,65.68 246.20,67.55 246.63,68.27 247.19,67.59 247.75,65.79 248.32,63.58 248.88,61.78 249.44,61.10 250.00,61.74 250.55,63.42 251.11,65.50 251.66,67.18 252.22,67.82 252.72,67.23 253.21,65.67 253.71,63.76 254.20,62.20 254.70,61.61 255.21,62.14 255.71,63.54 256.22,65.27 256.72,66.67 257.23,67.20 257.66,66.77 258.09,65.65 258.53,64.25 258.96,63.13 259.39,62.70 259.86,63.16 260.33,64.35 260.80,65.84 261.27,67.03 261.74,67.49 262.28,67.04 262.81,65.85 263.35,64.39 263.88,63.20 264.42,62.75 264.96,63.14 265.50,64.16 266.05,65.43 266.59,66.45 267.13,66.84 267.65,66.45 268.16,65.43 268.68,64.18 269.19,63.16 269.71,62.77 270.14,63.22 270.57,64.39 271.00,65.83 271.43,67.00 271.86,67.45 272.32,67.00 272.78,65.81 273.24,64.34 273.70,63.15 274.16,62.70 274.73,63.15 275.30,64.34 275.86,65.81 276.43,67.00 277.00,67.45 277.47,66.94 277.94,65.59 278.41,63.93 278.88,62.58 279.35,62.07 279.86,62.57 280.36,63.87 280.87,65.49 281.37,66.79 281.88,67.29 282.34,66.79 282.80,65.49 283.25,63.89 283.71,62.59 284.17,62.09 284.70,62.57 285.22,63.81 285.75,65.36 286.27,66.60 286.80,67.08 287.36,66.69 287.91,65.67 288.47,64.40 289.02,63.38 289.58,62.99 290.06,63.33 290.54,64.21 291.02,65.30 291.50,66.18 291.98,66.52 292.43,66.20 292.88,65.36 293.33,64.31 293.78,63.47 294.23,63.15 294.70,63.50 295.18,64.42 295.65,65.55 296.13,66.47 296.60,66.82 297.03,66.43 297.46,65.41 297.89,64.14 298.32,63.12 298.75,62.73 299.23,63.10 299.70,64.07 300.18,65.28 300.65,66.25 301.13,66.62 301.68,66.26 302.22,65.32 302.77,64.16 303.31,63.22 303.86,62.86 304.33,63.23 304.81,64.20 305.28,65.40 305.76,66.37 306.23,66.74 306.76,66.40 307.29,65.50 307.81,64.40 308.34,63.50 308.87,63.16 309.44,63.47 310.00,64.29 310.57,65.29 311.13,66.11 311.70,66.42 312.24,66.06 312.77,65.10 313.31,63.93 313.84,62.97 314.38,62.61 314.81,63.02 315.24,64.11 315.68,65.45 316.11,66.54 316.54,66.95 317.02,66.55 317.50,65.52 317.99,64.23 318.47,63.20 318.95,62.80 319.38,63.15 319.81,64.05 320.24,65.18 320.67,66.08 321.10,66.43 321.56,66.06 322.01,65.08 322.47,63.88 322.92,62.90 323.38,62.53 323.84,62.95 324.30,64.05 324.75,65.41 325.21,66.51 325.67,66.93 326.23,66.51 326.79,65.41 327.35,64.06 327.91,62.96 328.47,62.54 328.95,62.93 329.43,63.96 329.90,65.23 330.38,66.26 330.86,66.65 331.36,66.27 331.87,65.27 332.37,64.04 332.88,63.04 333.38,62.66 333.82,63.04 334.27,64.02 334.71,65.23 335.16,66.21 335.60,66.59 336.14,66.28 336.68,65.47 337.23,64.47 337.77,63.66 338.31,63.35 338.75,63.67 339.18,64.51 339.62,65.54 340.05,66.38 340.49,66.70 340.93,66.41 341.37,65.64 341.82,64.68 342.26,63.91 342.70,63.62 343.22,63.91 343.73,64.68 344.25,65.62 344.76,66.39 345.28,66.68 345.76,66.36 346.24,65.52 346.71,64.47 347.19,63.63 347.67,63.31 348.18,63.60 348.68,64.36 349.19,65.31 349.69,66.07 350.20,66.36 350.67,66.11 351.15,65.44 351.62,64.63 352.10,63.96 352.57,63.71 353.01,63.96 353.45,64.60 353.89,65.39 354.33,66.03 354.77,66.28 355.30,65.99 355.83,65.24 356.35,64.32 356.88,63.57 357.41,63.28 357.86,63.56 358.31,64.30 358.77,65.21 359.22,65.95 359.67,66.23 360.24,65.97 360.81,65.29 361.37,64.46 361.94,63.78 362.51,63.52 363.00,63.79 363.49,64.49 363.97,65.35 364.46,66.05 364.95,66.32 365.46,66.04 365.97,65.30 366.49,64.39 367.00,63.65 367.51,63.37 368.00,63.66 368.50,64.42 368.99,65.37 369.49,66.13 369.98,66.42 370.42,66.12 370.86,65.35 371.29,64.39 371.73,63.62 372.17,63.32 372.60,63.62 373.04,64.40 373.47,65.38 373.91,66.16 374.34,66.46 374.89,66.20 375.44,65.52 375.98,64.67 376.53,63.99 377.08,63.73 377.61,64.01 378.14,64.76 378.68,65.67 379.21,66.42 379.74,66.70 380.26,66.38 380.78,65.56 381.29,64.53 381.81,63.71 382.33,63.39 382.78,63.68 383.22,64.44 383.67,65.38 384.11,66.14 384.56,66.43 385.01,66.14 385.46,65.37 385.91,64.42 386.36,63.65 386.81,63.36 387.28,63.65 387.75,64.42 388.23,65.38 388.70,66.15 389.17,66.44 389.74,66.14 390.31,65.37 390.88,64.42 391.45,63.65 392.02,63.35 392.59,63.65 393.15,64.42 393.72,65.37 394.28,66.14 394.85,66.44 395.35,66.15 395.85,65.40 396.34,64.46 396.84,63.71 397.34,63.42 397.84,63.70 398.34,64.43 398.83,65.34 399.33,66.07 399.83,66.35 400.32,66.10 400.80,65.44 401.29,64.63 401.77,63.97 402.26,63.72 402.74,64.01 403.22,64.76 403.71,65.68 404.19,66.43 404.67,66.72" fill="none" stroke="#0000ff" stroke-width="1" stroke-opacity="0.75" stroke-linejoin="round"/>

<line x1="55.5" y1="12" x2="55.5" y2="390.5" class="ax"/>
<line x1="55" y1="390.5" x2="535.5" y2="390.5" class="ax"/>
<text x="56.50" y="407.00" text-anchor="middle" class="tl">0</text>
<text x="109.25" y="407.00" text-anchor="middle" class="tl">5</text>
<text x="162.35" y="407.00" text-anchor="middle" class="tl">10</text>
<text x="215.55" y="407.00" text-anchor="middle" class="tl">15</text>
<text x="268.10" y="407.00" text-anchor="middle" class="tl">20</text>
<text x="322.55" y="407.00" text-anchor="middle" class="tl">25</text>
<text x="375.55" y="407.00" text-anchor="middle" class="tl">30</text>
<text x="428.80" y="407.00" text-anchor="middle" class="tl">35</text>
<text x="481.55" y="407.00" text-anchor="middle" class="tl">40</text>
<text x="535.65" y="407.00" text-anchor="middle" class="tl">45</text>
<text x="51.00" y="15.75" text-anchor="end" class="tl">15</text>
<text x="51.00" y="91.40" text-anchor="end" class="tl">10</text>
<text x="51.00" y="166.80" text-anchor="end" class="tl">5</text>
<text x="51.00" y="243.00" text-anchor="end" class="tl">0</text>
<text x="51.00" y="318.15" text-anchor="end" class="tl">-5</text>
<text x="51.00" y="394.65" text-anchor="end" class="tl">-10</text>
<text x="294.2" y="426.0" text-anchor="middle">Time(s)</text>
<text transform="translate(19.6,203.0) rotate(-90)" text-anchor="middle" class="yl">Lateral Displacement (cm)</text>
<g>
<rect x="402.75" y="20.2" width="125.9" height="46.3" fill="#fff" stroke="#888" stroke-width="1.2"/>
<line x1="411" y1="31.9" x2="456" y2="31.9" stroke="#ff2a2a" stroke-width="1"/>
<line x1="411" y1="53" x2="456" y2="53" stroke="#6a6aff" stroke-width="1"/>
<text x="461" y="37.5">Two story</text>
<text x="461" y="57.5">Five story</text>
</g>
</svg>
</body></html>
